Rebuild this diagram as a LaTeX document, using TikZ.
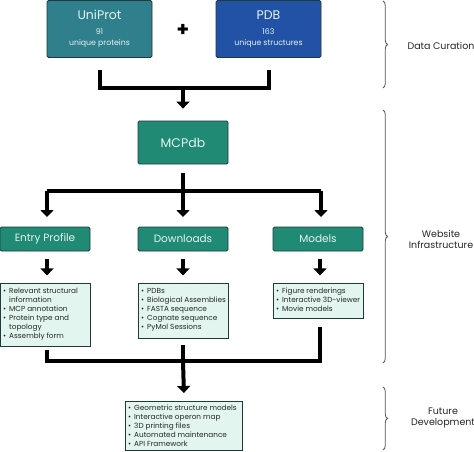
\documentclass[tikz,border=0pt]{standalone}
\usepackage{fontspec}
\setmainfont{Poppins}
\usetikzlibrary{arrows.meta,decorations.pathreplacing,calc}
\definecolor{uniteal}{HTML}{2F7F8D}
\definecolor{pdbblue}{HTML}{2152A6}
\definecolor{mcpgreen}{HTML}{218A74}
\definecolor{mint}{HTML}{E2F5EE}
\definecolor{boxedge}{HTML}{1D3B3A}
\definecolor{lighttext}{HTML}{E4F4F0}
\definecolor{bracegray}{HTML}{555555}
\begin{document}
\begin{tikzpicture}[x=1pt,y=-1pt,
  topbox/.style={draw=boxedge, line width=0.8pt, rounded corners=1.5pt, text=lighttext, align=center, inner sep=0pt},
  headbox/.style={draw=boxedge, line width=0.8pt, rounded corners=1.5pt, fill=mcpgreen, text=lighttext, minimum width=90pt, minimum height=24pt, inner sep=0pt, font=\fontsize{10.5}{12}\selectfont},
  listbox/.style={draw=boxedge, line width=0.8pt, fill=mint, inner sep=0pt, anchor=north west},
  listtext/.style={anchor=north west, inner sep=0pt, font=\fontsize{7.3}{9}\selectfont, text=black!85},
  conn/.style={line width=4pt, line join=miter, draw=black},
  arr/.style={conn, -{Triangle[width=13pt,length=7pt]}},
  brc/.style={draw=bracegray, line width=0.8pt, decorate, decoration={brace, amplitude=4.5pt, aspect=0.5}},
  side/.style={align=center, font=\fontsize{9.5}{11}\selectfont, text=black!85}
]
\useasboundingbox (0,0) rectangle (474,452);
\fill[white] (0,0) rectangle (474,452);

% top boxes
\node[topbox, fill=uniteal, minimum width=105pt, minimum height=57pt] (uni) at (99.5,29)
  {{\fontsize{12.5}{14}\selectfont UniProt}\\[3pt]{\fontsize{7.8}{9}\selectfont 91}\\[-1pt]{\fontsize{7.8}{9}\selectfont unique proteins}};
\node[topbox, fill=pdbblue, minimum width=105pt, minimum height=57pt] (pdb) at (268.5,29)
  {{\fontsize{12.5}{14}\selectfont PDB}\\[3pt]{\fontsize{7.8}{9}\selectfont 163}\\[-1pt]{\fontsize{7.8}{9}\selectfont unique structures}};
\node[font=\fontsize{20}{20}\selectfont\bfseries] (plus) at (183,30) {+};

% MCPdb
\node[topbox, fill=mcpgreen, minimum width=90pt, minimum height=43pt, font=\fontsize{12.5}{14}\selectfont] (mcp) at (183,142.5) {MCPdb};

% header boxes
\node[headbox] (entry) at (45,239) {Entry Profile};
\node[headbox] (down) at (183,239) {Downloads};
\node[headbox] (models) at (318,239) {Models};

% list boxes
\node[listbox, minimum width=90pt, minimum height=63pt] (elist) at (0,283) {};
\node[listtext] (etext) at (3,286.5)
  {\begin{tabular}{@{}l@{\hspace{3pt}}l@{}}
  • & Relevant structural\\
    & information\\
  • & MCP annotation\\
  • & Protein type and\\
    & topology\\
  • & Assembly form
  \end{tabular}};
\node[listbox, minimum width=90pt, minimum height=55pt] (dlist) at (138,283) {};
\node[listtext] (dtext) at (141,286.5)
  {\begin{tabular}{@{}l@{\hspace{3pt}}l@{}}
  • & PDBs\\
  • & Biological Assemblies\\
  • & FASTA sequence\\
  • & Cognate sequence\\
  • & PyMol Sessions
  \end{tabular}};
\node[listbox, minimum width=90pt, minimum height=35pt] (mlist) at (273,283) {};
\node[listtext] (mtext) at (276,286.5)
  {\begin{tabular}{@{}l@{\hspace{3pt}}l@{}}
  • & Figure renderings\\
  • & Interactive 3D-viewer\\
  • & Movie models
  \end{tabular}};
\node[listbox, minimum width=117pt, minimum height=49pt] (flist) at (125,401) {};
\node[listtext] (ftext) at (128,403.5)
  {\begin{tabular}{@{}l@{\hspace{3pt}}l@{}}
  • & Geometric structure models\\
  • & Interactive operon map\\
  • & 3D printing files\\
  • & Automated maintenance\\
  • & API Framework
  \end{tabular}};

% connector coordinates
\coordinate (u1) at ($(uni.south)+(0,12)$);
\coordinate (p1) at ($(pdb.south)+(0,12)$);
\coordinate (j1) at (183,88);
\coordinate (m1) at ($(mcp.south)+(0,9)$);
\coordinate (j2) at (183,191);
\coordinate (eL) at (47,191);
\coordinate (eR) at (321,191);
\coordinate (j3) at (183,361);

% connectors
\draw[conn] (u1) -- (u1 |- j1) -- (p1 |- j1) -- (p1);
\draw[arr] (j1) -- ($(mcp.north)+(0,-12)$);
\draw[conn] (m1) -- (j2);
\draw[conn] (eL |- j2) -- (eR);
\draw[arr] (eL) -- (47,217);
\draw[arr] (j2) -- (183,217);
\draw[arr] (eR) -- (321,217);

\draw[arr] ($(entry.south)+(2,8)$) -- ($(entry.south)+(2,24)$);
\draw[arr] ($(down.south)+(0,8)$) -- ($(down.south)+(0,24)$);
\draw[arr] ($(models.south)+(2,8)$) -- ($(models.south)+(2,24)$);

\draw[conn] (47,350) -- (47,361) -- (320,361) -- (320,327);
\draw[conn] (183,345) -- (j3);
\draw[arr] (j3) -- ($(flist.north)+(0,-8)$);

% braces
\draw[brc] (383,1) -- (383,88);
\node[side, anchor=west] (dc) at (404,46) {Data Curation};
\draw[brc] (383,110) -- (383,363);
\node[side] (wi) at (441,239) {Website\\Infrastructure};
\draw[brc] (383,387) -- (383,450);
\node[side] (fd) at (443,418) {Future\\Development};
\end{tikzpicture}
\end{document}
